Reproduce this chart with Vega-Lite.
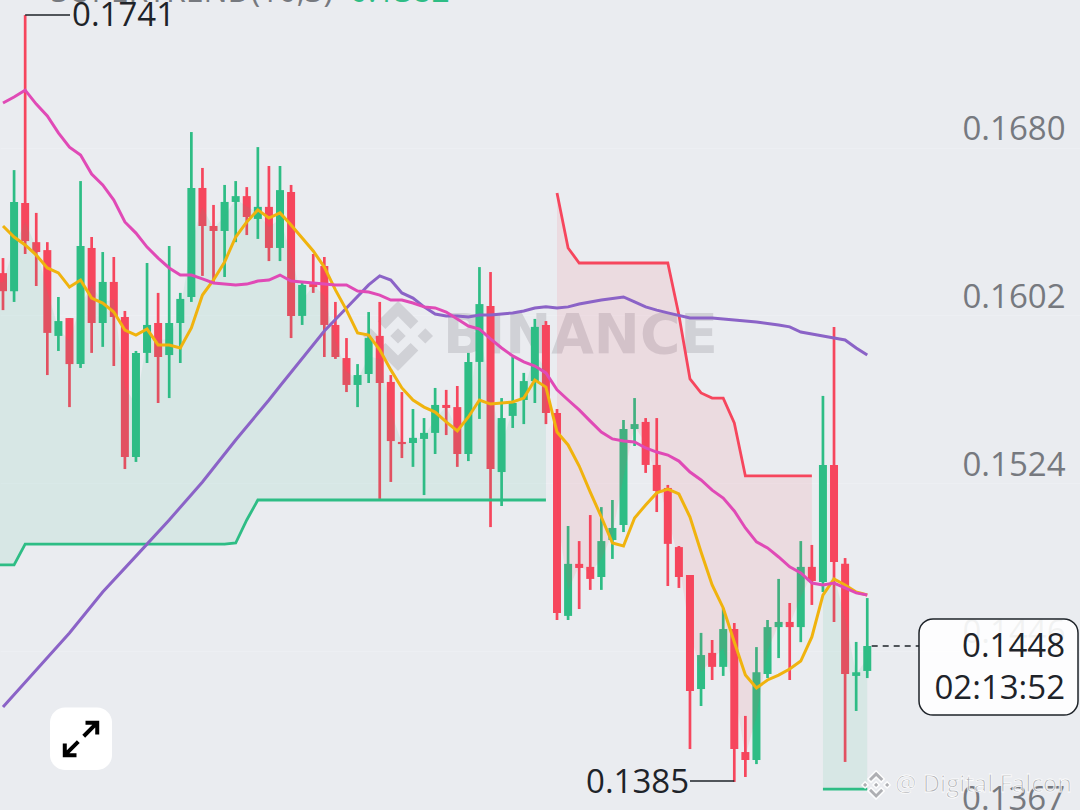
{"$schema":"https://vega.github.io/schema/vega-lite/v6.json","width":1080,"height":810,"autosize":{"type":"none"},"padding":0,"background":"#eaecf0","config":{"view":{"stroke":null},"font":"Open Sans"},
"resolve":{"axis":{"y":"independent"}},
"datasets":{
"candles":[
{"i":0,"h":0.16286,"o":0.16216,"c":0.16132,"l":0.16044},{"i":1,"h":0.16695,"o":0.16132,"c":0.16547,"l":0.16082},{"i":2,"h":0.17416,"o":0.16542,"c":0.16365,"l":0.16305},{"i":3,"h":0.16496,"o":0.1636,"c":0.16314,"l":0.16156},{"i":4,"h":0.1636,"o":0.16323,"c":0.15938,"l":0.15742},{"i":5,"h":0.16105,"o":0.15924,"c":0.15993,"l":0.15854},{"i":6,"h":0.16007,"o":0.16007,"c":0.15793,"l":0.15593},{"i":7,"h":0.16644,"o":0.15793,"c":0.16342,"l":0.15775},{"i":8,"h":0.16384,"o":0.16333,"c":0.15984,"l":0.15845},{"i":9,"h":0.16314,"o":0.15984,"c":0.16175,"l":0.15873},
{"i":10,"h":0.16291,"o":0.16175,"c":0.16012,"l":0.15784},{"i":11,"h":0.1604,"o":0.16012,"c":0.15361,"l":0.15305},{"i":12,"h":0.15854,"o":0.15361,"c":0.15845,"l":0.15338},{"i":13,"h":0.16263,"o":0.15845,"c":0.15975,"l":0.15798},{"i":14,"h":0.16124,"o":0.15984,"c":0.15826,"l":0.15612},{"i":15,"h":0.16342,"o":0.15835,"c":0.15984,"l":0.15635},{"i":16,"h":0.16124,"o":0.15984,"c":0.16096,"l":0.15798},{"i":17,"h":0.16872,"o":0.16105,"c":0.16612,"l":0.16082},{"i":18,"h":0.16705,"o":0.16612,"c":0.16435,"l":0.16203},{"i":19,"h":0.16533,"o":0.16435,"c":0.16412,"l":0.1617},
{"i":20,"h":0.16626,"o":0.16412,"c":0.16547,"l":0.16198},{"i":21,"h":0.16644,"o":0.16547,"c":0.16574,"l":0.1636},{"i":22,"h":0.16616,"o":0.16574,"c":0.16477,"l":0.16393},{"i":23,"h":0.16802,"o":0.16468,"c":0.16524,"l":0.16375},{"i":24,"h":0.16714,"o":0.16524,"c":0.16333,"l":0.16272},{"i":25,"h":0.16714,"o":0.16333,"c":0.16602,"l":0.16272},{"i":26,"h":0.16626,"o":0.16593,"c":0.16017,"l":0.15914},{"i":27,"h":0.1617,"o":0.16017,"c":0.16161,"l":0.15975},{"i":28,"h":0.16305,"o":0.16165,"c":0.16151,"l":0.16124},{"i":29,"h":0.16291,"o":0.16249,"c":0.15975,"l":0.15826},
{"i":30,"h":0.16082,"o":0.15975,"c":0.15826,"l":0.15817},{"i":31,"h":0.15914,"o":0.15821,"c":0.15696,"l":0.15663},{"i":32,"h":0.15793,"o":0.15696,"c":0.15742,"l":0.15593},{"i":33,"h":0.16035,"o":0.15747,"c":0.15914,"l":0.15705},{"i":34,"h":0.16082,"o":0.15924,"c":0.15705,"l":0.15166},{"i":35,"h":0.15742,"o":0.1571,"c":0.15435,"l":0.15245},{"i":36,"h":0.15663,"o":0.15431,"c":0.15421,"l":0.15356},{"i":37,"h":0.15584,"o":0.15426,"c":0.1545,"l":0.15315},{"i":38,"h":0.15542,"o":0.15445,"c":0.15473,"l":0.15184},{"i":39,"h":0.15682,"o":0.15473,"c":0.15603,"l":0.15375},
{"i":40,"h":0.15673,"o":0.15603,"c":0.15589,"l":0.15463},{"i":41,"h":0.15691,"o":0.15593,"c":0.15375,"l":0.15315},{"i":42,"h":0.15845,"o":0.15375,"c":0.15803,"l":0.15342},{"i":43,"h":0.16244,"o":0.15803,"c":0.16072,"l":0.15538},{"i":44,"h":0.16221,"o":0.16063,"c":0.15305,"l":0.15035},{"i":45,"h":0.15635,"o":0.15291,"c":0.15542,"l":0.15133},{"i":46,"h":0.15826,"o":0.15552,"c":0.15612,"l":0.15496},{"i":47,"h":0.15752,"o":0.15626,"c":0.15714,"l":0.15514},{"i":48,"h":0.16003,"o":0.15714,"c":0.15966,"l":0.15612},{"i":49,"h":0.15993,"o":0.15975,"c":0.15566,"l":0.15514},
{"i":50,"h":0.15584,"o":0.15566,"c":0.14636,"l":0.14603},{"i":51,"h":0.1504,"o":0.14622,"c":0.14864,"l":0.14603},{"i":52,"h":0.1497,"o":0.14864,"c":0.14845,"l":0.14654},{"i":53,"h":0.15091,"o":0.1485,"c":0.14794,"l":0.14743},{"i":54,"h":0.15128,"o":0.14803,"c":0.1497,"l":0.14743},{"i":55,"h":0.15161,"o":0.14975,"c":0.15031,"l":0.14887},{"i":56,"h":0.15533,"o":0.15045,"c":0.15491,"l":0.15012},{"i":57,"h":0.15635,"o":0.15491,"c":0.15514,"l":0.15412},{"i":58,"h":0.15542,"o":0.15524,"c":0.15324,"l":0.15287},{"i":59,"h":0.15542,"o":0.15324,"c":0.15203,"l":0.15105},
{"i":60,"h":0.15231,"o":0.15217,"c":0.14957,"l":0.14761},{"i":61,"h":0.14947,"o":0.14942,"c":0.14803,"l":0.14752},{"i":62,"h":0.14812,"o":0.14812,"c":0.14273,"l":0.14003},{"i":63,"h":0.14543,"o":0.14282,"c":0.1444,"l":0.14203},{"i":64,"h":0.1451,"o":0.1445,"c":0.14385,"l":0.14324},{"i":65,"h":0.14659,"o":0.14385,"c":0.14561,"l":0.14343},{"i":66,"h":0.14589,"o":0.14561,"c":0.14003,"l":0.1385},{"i":67,"h":0.14157,"o":0.13989,"c":0.13952,"l":0.13873},{"i":68,"h":0.14477,"o":0.13952,"c":0.1436,"l":0.13933},{"i":69,"h":0.14603,"o":0.14352,"c":0.1457,"l":0.14333},
{"i":70,"h":0.14794,"o":0.1457,"c":0.14594,"l":0.14426},{"i":71,"h":0.14682,"o":0.14594,"c":0.1457,"l":0.14324},{"i":72,"h":0.1497,"o":0.1457,"c":0.1485,"l":0.145},{"i":73,"h":0.14952,"o":0.1485,"c":0.14784,"l":0.14673},{"i":74,"h":0.15645,"o":0.1478,"c":0.15324,"l":0.14733},{"i":75,"h":0.15965,"o":0.15324,"c":0.14873,"l":0.14594},{"i":76,"h":0.14891,"o":0.14864,"c":0.14352,"l":0.13943},{"i":77,"h":0.14501,"o":0.14343,"c":0.1436,"l":0.1418},{"i":78,"h":0.14705,"o":0.14366,"c":0.14482,"l":0.14333}],
"trend":[
{"i":-1,"seg":"up1","st":0.14859,"mid":0.16174},{"i":0,"seg":"up1","st":0.14859,"mid":0.16174},{"i":1,"seg":"up1","st":0.14859,"mid":0.1634},{"i":2,"seg":"up1","st":0.14956,"mid":0.16454},{"i":3,"seg":"up1","st":0.14956,"mid":0.16337},{"i":4,"seg":"up1","st":0.14956,"mid":0.16131},{"i":5,"seg":"up1","st":0.14956,"mid":0.15959},{"i":6,"seg":"up1","st":0.14956,"mid":0.159},{"i":7,"seg":"up1","st":0.14956,"mid":0.16068},{"i":8,"seg":"up1","st":0.14956,"mid":0.16159},{"i":9,"seg":"up1","st":0.14956,"mid":0.1608},
{"i":10,"seg":"up1","st":0.14956,"mid":0.16094},{"i":11,"seg":"up1","st":0.14956,"mid":0.15687},{"i":12,"seg":"up1","st":0.14956,"mid":0.15603},{"i":13,"seg":"up1","st":0.14956,"mid":0.1591},{"i":14,"seg":"up1","st":0.14956,"mid":0.15905},{"i":15,"seg":"up1","st":0.14956,"mid":0.1591},{"i":16,"seg":"up1","st":0.14956,"mid":0.1604},{"i":17,"seg":"up1","st":0.14956,"mid":0.16359},{"i":18,"seg":"up1","st":0.14956,"mid":0.16524},{"i":19,"seg":"up1","st":0.14956,"mid":0.16424},
{"i":20,"seg":"up1","st":0.14956,"mid":0.1648},{"i":21,"seg":"up1","st":0.14961,"mid":0.16561},{"i":22,"seg":"up1","st":0.15068,"mid":0.16526},{"i":23,"seg":"up1","st":0.15161,"mid":0.16496},{"i":24,"seg":"up1","st":0.15161,"mid":0.16429},{"i":25,"seg":"up1","st":0.15161,"mid":0.16468},{"i":26,"seg":"up1","st":0.15161,"mid":0.16305},{"i":27,"seg":"up1","st":0.15161,"mid":0.16089},{"i":28,"seg":"up1","st":0.15161,"mid":0.16158},{"i":29,"seg":"up1","st":0.15161,"mid":0.16112},
{"i":30,"seg":"up1","st":0.15161,"mid":0.15901},{"i":31,"seg":"up1","st":0.15161,"mid":0.15759},{"i":32,"seg":"up1","st":0.15161,"mid":0.15719},{"i":33,"seg":"up1","st":0.15161,"mid":0.15831},{"i":34,"seg":"up1","st":0.15161,"mid":0.15815},{"i":35,"seg":"up1","st":0.15161,"mid":0.15573},{"i":36,"seg":"up1","st":0.15161,"mid":0.15426},{"i":37,"seg":"up1","st":0.15161,"mid":0.15438},{"i":38,"seg":"up1","st":0.15161,"mid":0.15459},{"i":39,"seg":"up1","st":0.15161,"mid":0.15538},
{"i":40,"seg":"up1","st":0.15161,"mid":0.15596},{"i":41,"seg":"up1","st":0.15161,"mid":0.15484},{"i":42,"seg":"up1","st":0.15161,"mid":0.15589},{"i":43,"seg":"up1","st":0.15161,"mid":0.15938},{"i":44,"seg":"up1","st":0.15161,"mid":0.15684},{"i":45,"seg":"up1","st":0.15161,"mid":0.15417},{"i":46,"seg":"up1","st":0.15161,"mid":0.15582},{"i":47,"seg":"up1","st":0.15161,"mid":0.1567},{"i":48,"seg":"up1","st":0.15161,"mid":0.1584},{"i":49,"seg":"up1","st":0.15161,"mid":0.15771},
{"i":50,"seg":"down","st":0.16589,"mid":0.15101},{"i":51,"seg":"down","st":0.16333,"mid":0.14743},{"i":52,"seg":"down","st":0.16263,"mid":0.14855},{"i":53,"seg":"down","st":0.16263,"mid":0.14822},{"i":54,"seg":"down","st":0.16263,"mid":0.14887},{"i":55,"seg":"down","st":0.16263,"mid":0.15003},{"i":56,"seg":"down","st":0.16263,"mid":0.15268},{"i":57,"seg":"down","st":0.16263,"mid":0.15503},{"i":58,"seg":"down","st":0.16263,"mid":0.15424},{"i":59,"seg":"down","st":0.16263,"mid":0.15264},
{"i":60,"seg":"down","st":0.16263,"mid":0.15087},{"i":61,"seg":"down","st":0.16021,"mid":0.14873},{"i":62,"seg":"down","st":0.15724,"mid":0.14543},{"i":63,"seg":"down","st":0.15659,"mid":0.14361},{"i":64,"seg":"down","st":0.15635,"mid":0.14418},{"i":65,"seg":"down","st":0.15635,"mid":0.14473},{"i":66,"seg":"down","st":0.15519,"mid":0.14282},{"i":67,"seg":"down","st":0.15273,"mid":0.13971},{"i":68,"seg":"down","st":0.15273,"mid":0.14156},{"i":69,"seg":"down","st":0.15273,"mid":0.14461},
{"i":70,"seg":"down","st":0.15273,"mid":0.14582},{"i":71,"seg":"down","st":0.15273,"mid":0.14582},{"i":72,"seg":"down","st":0.15273,"mid":0.1471},{"i":73,"seg":"down","st":0.15273,"mid":0.14817},
{"i":74,"seg":"up2","st":0.13817,"mid":0.14742},{"i":75,"seg":"up2","st":0.13817,"mid":0.14812},{"i":76,"seg":"up2","st":0.13817,"mid":0.14608},{"i":77,"seg":"up2","st":0.13817,"mid":0.14352},{"i":78,"seg":"up2","st":0.13817,"mid":0.14424}],
"ma":[
{"i":0,"m25":0.17007,"m7":0.16435},{"i":1,"m25":0.17035,"m7":0.16384},{"i":2,"m25":0.17067,"m7":0.16347},{"i":3,"m25":0.17002,"m7":0.163},{"i":4,"m25":0.16947,"m7":0.1624},{"i":5,"m25":0.16868,"m7":0.16217},{"i":6,"m25":0.16802,"m7":0.16151},{"i":7,"m25":0.16765,"m7":0.16184},{"i":8,"m25":0.16677,"m7":0.161},{"i":9,"m25":0.16626,"m7":0.16077},
{"i":10,"m25":0.16556,"m7":0.16035},{"i":11,"m25":0.16454,"m7":0.15951},{"i":12,"m25":0.16402,"m7":0.15928},{"i":13,"m25":0.16337,"m7":0.15956},{"i":14,"m25":0.16286,"m7":0.15882},{"i":15,"m25":0.1624,"m7":0.15882},{"i":16,"m25":0.16207,"m7":0.15868},{"i":17,"m25":0.16207,"m7":0.15961},{"i":18,"m25":0.16189,"m7":0.16114},{"i":19,"m25":0.1617,"m7":0.16184},
{"i":20,"m25":0.16165,"m7":0.16268},{"i":21,"m25":0.16161,"m7":0.16384},{"i":22,"m25":0.16165,"m7":0.16454},{"i":23,"m25":0.16179,"m7":0.1651},{"i":24,"m25":0.16184,"m7":0.16472},{"i":25,"m25":0.16207,"m7":0.16496},{"i":26,"m25":0.16179,"m7":0.1644},{"i":27,"m25":0.16175,"m7":0.16379},{"i":28,"m25":0.1617,"m7":0.16319},{"i":29,"m25":0.16165,"m7":0.16244},
{"i":30,"m25":0.16161,"m7":0.16138},{"i":31,"m25":0.16161,"m7":0.16044},{"i":32,"m25":0.16133,"m7":0.15938},{"i":33,"m25":0.16128,"m7":0.15928},{"i":34,"m25":0.16114,"m7":0.15859},{"i":35,"m25":0.16091,"m7":0.15766},{"i":36,"m25":0.16091,"m7":0.15682},{"i":37,"m25":0.16077,"m7":0.15626},{"i":38,"m25":0.16059,"m7":0.15593},{"i":39,"m25":0.16054,"m7":0.1557},
{"i":40,"m25":0.16035,"m7":0.15524},{"i":41,"m25":0.16003,"m7":0.15482},{"i":42,"m25":0.1597,"m7":0.15547},{"i":43,"m25":0.15956,"m7":0.15626},{"i":44,"m25":0.1591,"m7":0.15607},{"i":45,"m25":0.15868,"m7":0.15612},{"i":46,"m25":0.15831,"m7":0.15617},{"i":47,"m25":0.15803,"m7":0.15635},{"i":48,"m25":0.15784,"m7":0.15719},{"i":49,"m25":0.15752,"m7":0.15686},
{"i":50,"m25":0.15673,"m7":0.15477},{"i":51,"m25":0.15626,"m7":0.15417},{"i":52,"m25":0.1558,"m7":0.15319},{"i":53,"m25":0.15528,"m7":0.15198},{"i":54,"m25":0.15477,"m7":0.15082},{"i":55,"m25":0.15445,"m7":0.14961},{"i":56,"m25":0.15435,"m7":0.14947},{"i":57,"m25":0.15431,"m7":0.15077},{"i":58,"m25":0.15403,"m7":0.15138},{"i":59,"m25":0.15384,"m7":0.15194},
{"i":60,"m25":0.1537,"m7":0.15212},{"i":61,"m25":0.15342,"m7":0.15189},{"i":62,"m25":0.15291,"m7":0.15082},{"i":63,"m25":0.15254,"m7":0.14919},{"i":64,"m25":0.15207,"m7":0.14766},{"i":65,"m25":0.1517,"m7":0.14659},{"i":66,"m25":0.1511,"m7":0.14501},{"i":67,"m25":0.15031,"m7":0.14347},{"i":68,"m25":0.14966,"m7":0.14287},{"i":69,"m25":0.14938,"m7":0.14324},
{"i":70,"m25":0.14896,"m7":0.14347},{"i":71,"m25":0.1485,"m7":0.14375},{"i":72,"m25":0.14822,"m7":0.14412},{"i":73,"m25":0.14775,"m7":0.14524},{"i":74,"m25":0.14766,"m7":0.14719},{"i":75,"m25":0.14775,"m7":0.14794},{"i":76,"m25":0.14752,"m7":0.14766},{"i":77,"m25":0.14729,"m7":0.14733},{"i":78,"m25":0.14719,"m7":0.14719}],
"m99":[
{"i":0,"p":0.14199},{"i":3,"p":0.14371},{"i":6,"p":0.14543},{"i":9,"p":0.14733},{"i":12,"p":0.149},{"i":15,"p":0.15068},{"i":18,"p":0.15245},{"i":21,"p":0.1544},{"i":24,"p":0.15626},{"i":25,"p":0.15691},{"i":29,"p":0.15947},{"i":31,"p":0.16054},{"i":33,"p":0.16161},{"i":34,"p":0.16203},{"i":35,"p":0.16184},{"i":36,"p":0.16124},{"i":37,"p":0.161},{"i":38,"p":0.16059},{"i":39,"p":0.16026},{"i":40,"p":0.16017},{"i":41,"p":0.16017},{"i":42,"p":0.16012},{"i":43,"p":0.16021},{"i":44,"p":0.16021},{"i":45,"p":0.16026},{"i":46,"p":0.16031},{"i":47,"p":0.1604},{"i":48,"p":0.16054},{"i":49,"p":0.16059},{"i":50,"p":0.16054},{"i":51,"p":0.16059},{"i":52,"p":0.16072},{"i":54,"p":0.16091},{"i":56,"p":0.16105},{"i":57,"p":0.16082},{"i":58,"p":0.16059},{"i":59,"p":0.16044},{"i":60,"p":0.16031},{"i":62,"p":0.16007},{"i":64,"p":0.16007},{"i":66,"p":0.15998},{"i":68,"p":0.15989},{"i":70,"p":0.15975},{"i":71,"p":0.15966},{"i":72,"p":0.15942},{"i":73,"p":0.15933},{"i":74,"p":0.15924},{"i":75,"p":0.15914},{"i":76,"p":0.15905},{"i":77,"p":0.15868},{"i":78,"p":0.15835}]
},
"encoding":{
"x":{"field":"i","type":"quantitative","scale":{"domain":[-0.2708,97.2],"nice":false,"zero":false},"axis":null},
"y":{"field":"p","type":"quantitative","scale":{"domain":[0.137195,0.17486],"nice":false,"zero":false},"axis":null}
},
"layer":[
{"data":{"values":[{"i":39.7,"p":0.15924,"t":"BINANCE"}]},"mark":{"type":"text","align":"left","baseline":"middle","font":"DejaVu Sans","fontWeight":"bold","fontSize":55,"color":"#d0d1d6"},"encoding":{"text":{"field":"t"},"y":{"field":"p","type":"quantitative","axis":{"title":null,"orient":"right","values":[0.168,0.1602,0.1524,0.1446],"format":".4f","domain":false,"ticks":false,"grid":true,"gridColor":"#edeff3","gridWidth":1,"labelFont":"Open Sans","labelFontSize":33,"labelColor":"#76797f","labelAlign":"right","labelBaseline":"middle","labelPadding":-15,"labelOffset":-18,"labelBound":false,"labelFlush":false,"labelOverlap":false}}}},
{"data":{"values":[{"i":95.85,"p":0.13673,"t":"0.1367"}]},"mark":{"type":"text","align":"right","baseline":"middle","dy":-20,"font":"Open Sans","fontSize":33,"color":"#76797f"},"encoding":{"text":{"field":"t"}}},
{"data":{"values":[{"i":35.65,"p":0.15924}]},"mark":{"type":"point","filled":true,"opacity":1,"color":"#d0d1d6","size":4900,"shape":"M0,-0.22L0.22,0L0,0.22L-0.22,0ZM-1,0L-0.78,-0.22L-0.56,0L-0.78,0.22ZM1,0L0.78,-0.22L0.56,0L0.78,0.22ZM0,-1L0.58,-0.42L0.36,-0.2L0,-0.56L-0.36,-0.2L-0.58,-0.42ZM0,1L0.58,0.42L0.36,0.2L0,0.56L-0.36,0.2L-0.58,0.42Z"}},
{"data":{"name":"candles"},"mark":{"type":"rule","strokeWidth":2.7},"encoding":{"y":{"field":"h","type":"quantitative","axis":null},"y2":{"field":"l"},"color":{"condition":{"test":"datum.c>=datum.o","value":"#2ebd85"},"value":"#f6465d"}}},
{"data":{"name":"candles"},"mark":{"type":"rule","strokeWidth":8},"encoding":{"y":{"field":"o","type":"quantitative","axis":null},"y2":{"field":"c"},"color":{"condition":{"test":"datum.c>=datum.o","value":"#2ebd85"},"value":"#f6465d"}}},
{"data":{"name":"trend"},"mark":{"type":"area","fillOpacity":0.1,"clip":true},"encoding":{"y":{"field":"st","type":"quantitative","axis":null},"y2":{"field":"mid"},"color":{"field":"seg","type":"nominal","legend":null,"scale":{"domain":["up1","down","up2"],"range":["#2ebd85","#f6465d","#2ebd85"]}}}},
{"data":{"name":"trend"},"mark":{"type":"line","strokeWidth":2.8,"clip":true},"encoding":{"y":{"field":"st","type":"quantitative","axis":null},"color":{"field":"seg","type":"nominal","legend":null}}},
{"data":{"name":"m99"},"mark":{"type":"line","strokeWidth":3,"color":"#8b63c7"}},
{"data":{"name":"ma"},"mark":{"type":"line","strokeWidth":3,"color":"#f0b30e"},"encoding":{"y":{"field":"m7","type":"quantitative","axis":null}}},
{"data":{"name":"ma"},"mark":{"type":"line","strokeWidth":3,"color":"#e04ab6"},"encoding":{"y":{"field":"m25","type":"quantitative","axis":null}}},
{"data":{"values":[{"i":2,"i2":6.05,"p":0.17416},{"i":62,"i2":66,"p":0.13854}]},"mark":{"type":"rule","strokeWidth":1.5,"color":"#1e2329"},"encoding":{"x2":{"field":"i2"}}},
{"data":{"values":[{"i":6.23,"p":0.17412,"t":"0.1741"},{"i":52.62,"p":0.13845,"t":"0.1385"}]},"mark":{"type":"text","align":"left","baseline":"middle","font":"Open Sans","fontSize":33,"color":"#1e2329"},"encoding":{"text":{"field":"t"}}},
{"data":{"values":[{"i":78.4,"i2":82.67,"p":0.14482}]},"mark":{"type":"rule","strokeWidth":1.5,"color":"#1e2329","strokeDash":[6,5]},"encoding":{"x2":{"field":"i2"}}},
{"data":{"values":[{"i":82.67,"i2":97.02,"p":0.14608,"p2":0.14161}]},"mark":{"type":"rect","fill":"#ffffff","fillOpacity":0.9,"stroke":"#1e2329","strokeWidth":1.5,"cornerRadius":14},"encoding":{"x2":{"field":"i2"},"y2":{"field":"p2"}}},
{"data":{"values":[{"i":95.85,"p":0.14477,"t":"0.1448"},{"i":95.85,"p":0.14282,"t":"02:13:52"}]},"mark":{"type":"text","align":"right","baseline":"middle","font":"Open Sans","fontSize":33,"color":"#1e2329"},"encoding":{"text":{"field":"t"}}},
{"data":{"values":[{"i":4.24,"i2":9.84,"p":0.14196,"p2":0.13906}]},"mark":{"type":"rect","fill":"#ffffff","cornerRadius":15},"encoding":{"x2":{"field":"i2"},"y2":{"field":"p2"}}},
{"data":{"values":[{"i":7.04,"p":0.1405}]},"mark":{"type":"point","filled":false,"opacity":1,"stroke":"#000000","strokeWidth":4,"size":1300,"shape":"M0.15,-0.15L0.9,-0.9M0.25,-0.9L0.9,-0.9L0.9,-0.25M-0.15,0.15L-0.9,0.9M-0.9,0.25L-0.9,0.9L-0.25,0.9"}},
{"data":{"values":[{"i":4.3,"p":0.17477,"t":"SUPERTREND(10,3)"}]},"mark":{"type":"text","align":"left","baseline":"alphabetic","font":"Open Sans","fontSize":32,"color":"#76797f"},"encoding":{"text":{"field":"t"}}},
{"data":{"values":[{"i":31.3,"p":0.17477,"t":"0.1382"}]},"mark":{"type":"text","align":"left","baseline":"alphabetic","font":"Open Sans","fontSize":32,"color":"#2ebd85"},"encoding":{"text":{"field":"t"}}},
{"data":{"values":[{"i":78.8,"p":0.13836}]},"mark":{"type":"point","filled":true,"opacity":0.9,"color":"#a8a9ad","stroke":"#ffffff","strokeWidth":1.5,"size":800,"shape":"M0,-0.22L0.22,0L0,0.22L-0.22,0ZM-1,0L-0.78,-0.22L-0.56,0L-0.78,0.22ZM1,0L0.78,-0.22L0.56,0L0.78,0.22ZM0,-1L0.58,-0.42L0.36,-0.2L0,-0.56L-0.36,-0.2L-0.58,-0.42ZM0,1L0.58,0.42L0.36,0.2L0,0.56L-0.36,0.2L-0.58,0.42Z"}},
{"data":{"values":[{"i":80.5,"p":0.13836,"t":"@ Digital Falcon"}]},"mark":{"type":"text","align":"left","baseline":"middle","font":"Open Sans","fontSize":24,"fill":"#a8a9ad","stroke":"#ffffff","strokeWidth":0.8,"opacity":0.9},"encoding":{"text":{"field":"t"}}}
]}
